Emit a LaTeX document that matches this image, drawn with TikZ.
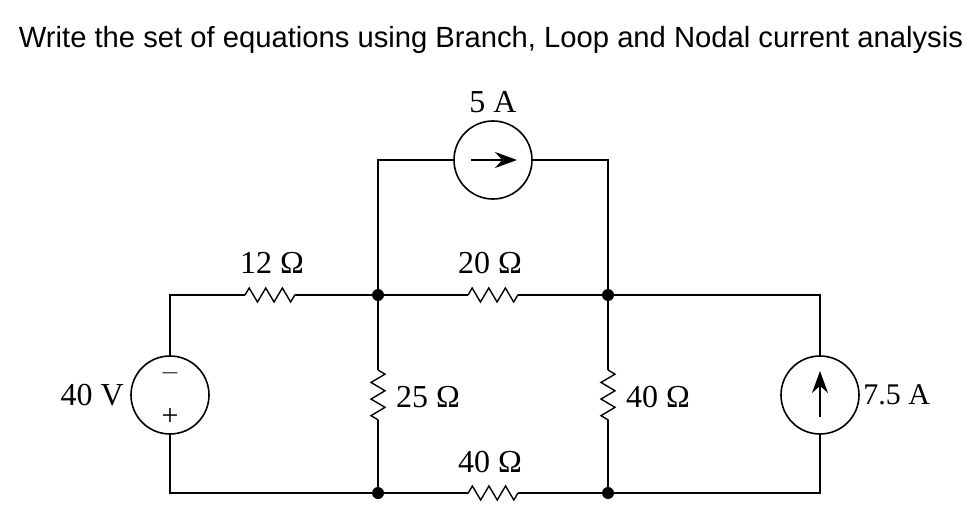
\documentclass[tikz,border=0pt]{standalone}
\usepackage{fontspec}
\setmainfont{Liberation Serif}
\newfontfamily\titlefont{Liberation Sans}
\usetikzlibrary{arrows.meta, decorations.pathmorphing, positioning}
\tikzset{
  wire/.style={line width=1.3pt},
  res/.style={line width=1.4pt, decorate, decoration={zigzag, segment length=16.6pt, amplitude=7pt}},
  src/.style={circle, draw, line width=1.6pt, fill=white, minimum size=78pt, inner sep=0pt},
  dot/.style={circle, fill, inner sep=0pt, minimum size=12pt},
  val/.style={font=\fontsize{32}{36}\selectfont},
  arr/.style={-{Stealth[length=22pt, width=16pt]}, line width=1.8pt},
}
\begin{document}
\begin{tikzpicture}[x=1pt, y=-1pt]
  \useasboundingbox (0,0) rectangle (977,532);
  \node[font=\titlefont\fontsize{29.2}{33}\selectfont] (title) at (491,40) {Write the set of equations using Branch, Loop and Nodal current analysis};

  % nodes
  \node[dot] (a) at (378,295) {};
  \node[dot] (b) at (608,295) {};
  \node[dot] (c) at (378,493) {};
  \node[dot] (d) at (608,493) {};
  \coordinate (tl) at (170,295);
  \coordinate (bl) at (170,493);
  \coordinate (tr) at (820,295);
  \coordinate (br) at (820,493);
  \coordinate (ta) at (378,160);
  \coordinate (tb) at (608,160);

  % sources
  \node[src] (vs) at (170,395) {};
  \node[font=\fontsize{30}{32}\selectfont] at ([yshift=22pt]vs.center) {$-$};
  \node[font=\fontsize{30}{32}\selectfont] at ([yshift=-22pt]vs.center) {+};
  \node[val, left=3pt of vs] (vlab) {40 V};
  \node[src] (cs) at (493,160) {};
  \draw[arr] ([xshift=-22pt]cs.center) -- ([xshift=24pt]cs.center);
  \node[val, above=4pt of cs] (cslab) {5 A};
  \node[src] (cs2) at (820,395) {};
  \draw[arr] ([yshift=-22pt]cs2.center) -- ([yshift=24pt]cs2.center);
  \node[val, right=0pt of cs2] (cs2lab) {\fontsize{30}{32}\selectfont 7.5 A};

  % wires
  \draw[wire] (vs.north) -- (tl) -- (245,295);
  \draw[res] (245,295) -- (295,295);
  \draw[wire] (295,295) -- (a.center) -- (468,295);
  \draw[res] (468,295) -- (518,295);
  \draw[wire] (518,295) -- (b.center) -- (tr) -- (cs2.north);
  \draw[wire] (cs2.south) -- (br) -- (d.center) -- (518,493);
  \draw[res] (518,493) -- (468,493);
  \draw[wire] (468,493) -- (c.center) -- (bl) -- (vs.south);
  \draw[wire] (a.center) -- (ta) -- (cs.west);
  \draw[wire] (cs.east) -- (tb) -- (b.center);
  \draw[wire] (a.center) -- (378,370);
  \draw[res] (378,370) -- (378,420);
  \draw[wire] (378,420) -- (c.center);
  \draw[wire] (b.center) -- (608,370);
  \draw[res] (608,370) -- (608,420);
  \draw[wire] (608,420) -- (d.center);

  % labels
  \node[val] (r1) at (272,263) {12 Ω};
  \node[val] (r2) at (490,263) {20 Ω};
  \node[val] (r3) at (428,397) {25 Ω};
  \node[val] (r4) at (658,397) {40 Ω};
  \node[val] (r5) at (490,462) {40 Ω};
\end{tikzpicture}
\end{document}
